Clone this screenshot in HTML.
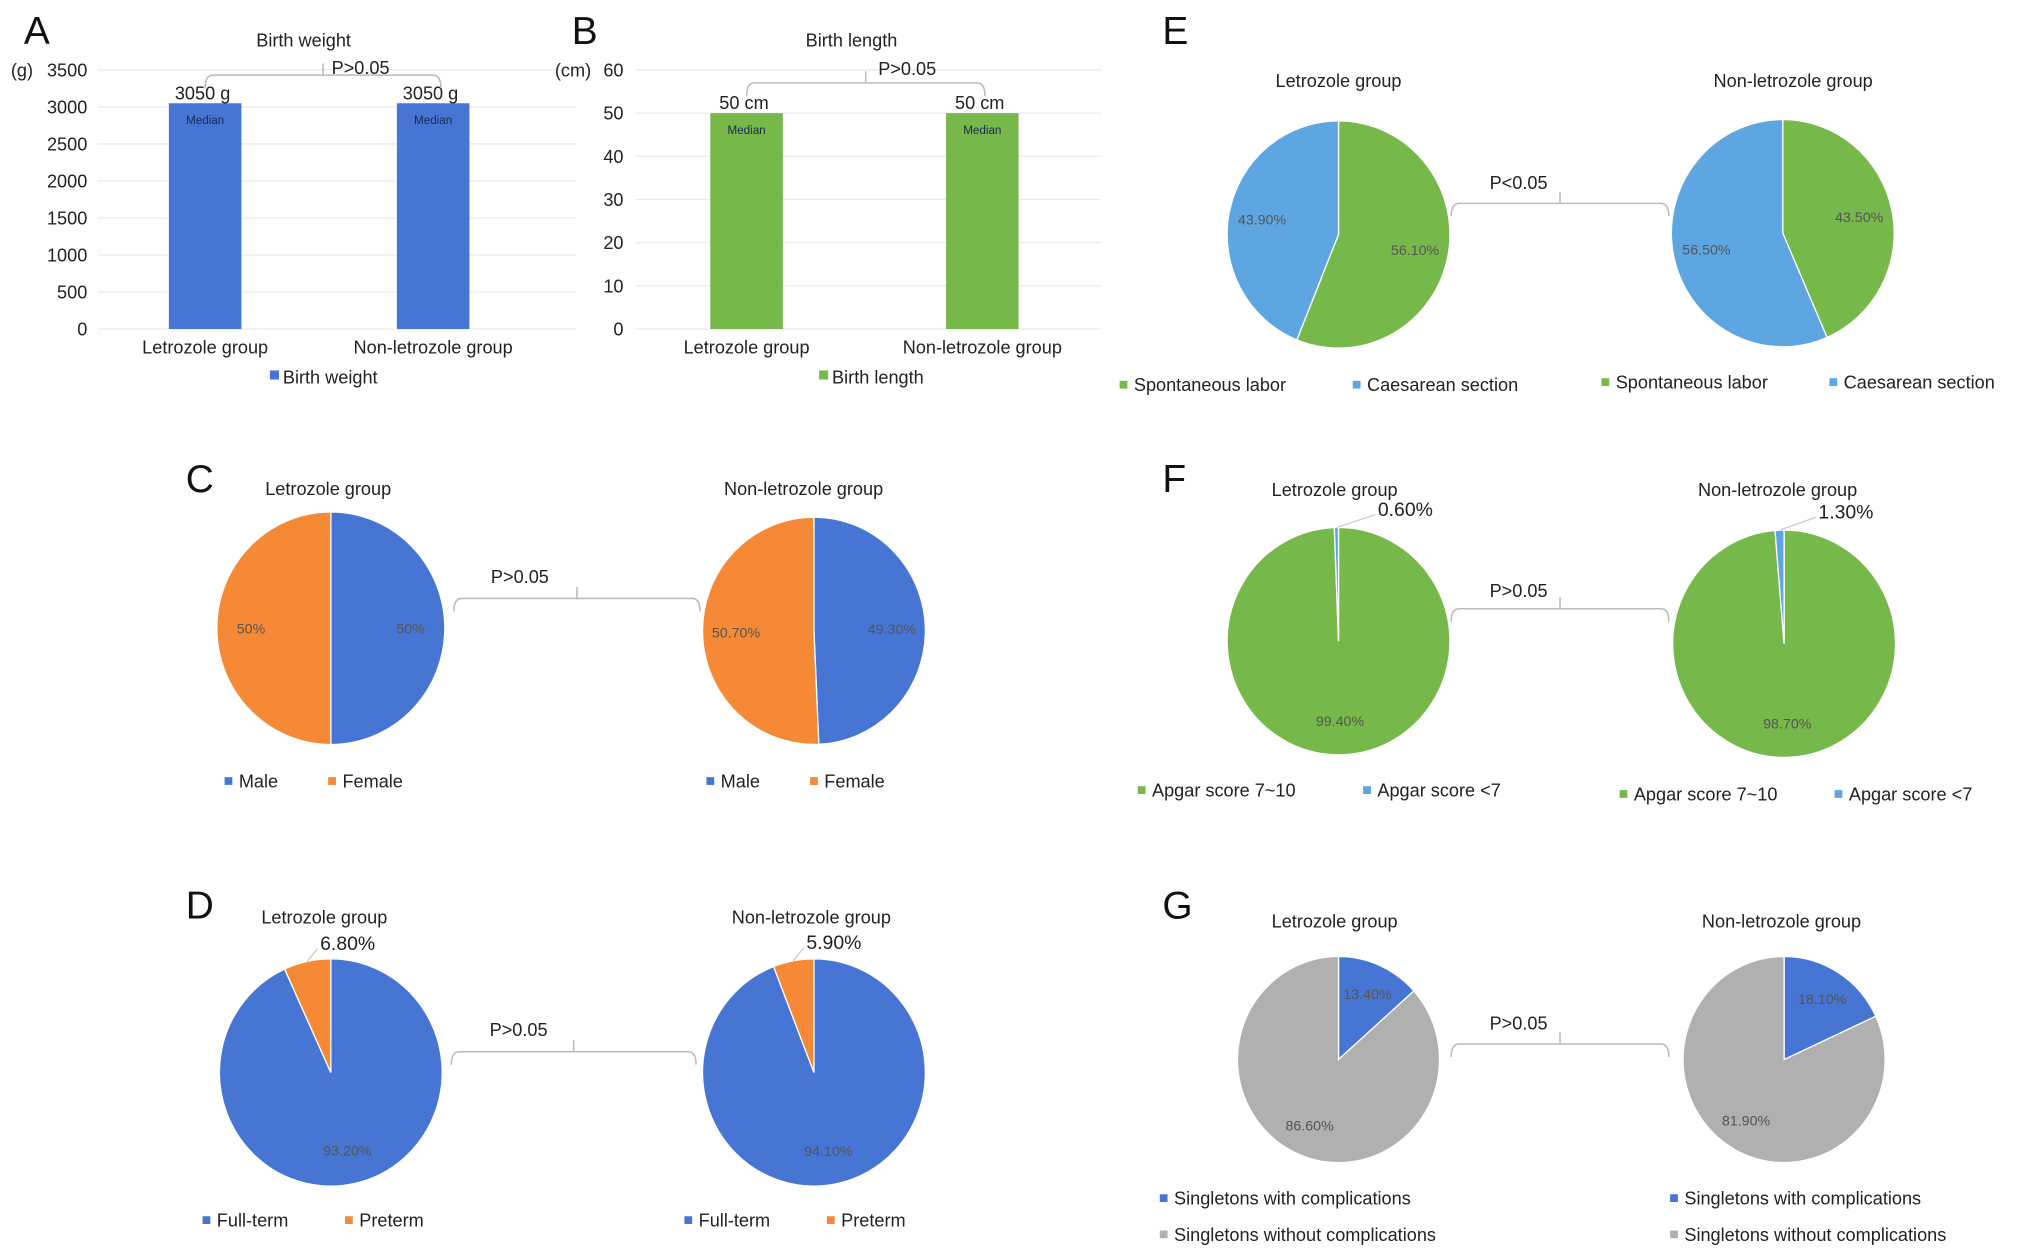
<!DOCTYPE html>
<html><head><meta charset="utf-8"><style>
html,body{margin:0;padding:0;background:#fff}
svg{display:block}
text{font-family:"Liberation Sans",sans-serif}
</style></head><body>
<svg id="fig" width="2032" height="1259" viewBox="0 0 1568 972">
</svg>
<script>
// ---- data ----
const barCategories = ["Letrozole group","Non-letrozole group"];
const weightValues = [3050,3050];
const weightTicks = [0,500,1000,1500,2000,2500,3000,3500];
const lengthValues = [50,50];
const lengthTicks = [0,10,20,30,40,50,60];
const sexLet = [50,50];          // Male, Female
const sexNon = [49.3,50.7];
const termLet = [93.2,6.8];      // Full-term, Preterm
const termNon = [94.1,5.9];
const laborLet = [56.1,43.9];    // Spontaneous, Caesarean
const laborNon = [43.5,56.5];
const apgarLet = [99.4,0.6];     // 7~10, <7
const apgarNon = [98.7,1.3];
const compLet = [13.4,86.6];     // with, without
const compNon = [18.1,81.9];

const NS="http://www.w3.org/2000/svg";
const svg=document.getElementById('fig');
function el(tag,attrs,parent){const e=document.createElementNS(NS,tag);for(const k in attrs)e.setAttribute(k,attrs[k]);(parent||svg).appendChild(e);return e;}
function txt(x,y,s,size,opts,parent){opts=opts||{};const t=el('text',{x:x,y:y,'font-size':size,fill:opts.fill||'#222','text-anchor':opts.anchor||'middle'},parent);t.textContent=s;return t;}

const BLUE="#4675d3",ORANGE="#f58936",GREEN="#77b84b",LBLUE="#5ea6e2",GRAY="#b0b0b0";

// panel letters
[["A",18,34],["B",441,34],["C",143,380],["D",143,709],["E",897,34],["F",897,380],["G",897,709]].forEach(p=>{
  const t=txt(p[1],p[2],p[0],30,{anchor:'start',fill:'#111'});
  
  
});

function bracket(x1,x2,y,label,lx,ly){
  const g=el('g',{});
  
  
  const xm=(x1+x2)/2;
  el('path',{d:`M${x1} ${y+10} Q${x1} ${y} ${x1+6} ${y} L${x2-6} ${y} Q${x2} ${y} ${x2} ${y+10} M${xm} ${y} L${xm} ${y-9}`,stroke:'#bbb','stroke-width':1.2,fill:'none'},g);
  const t=txt(lx,ly,label,14,{fill:'#222'},g);
  
  
}

function barChart(cfg){
  const g=el('g',{});
  
  
  const y0=254,y1=54,max=cfg.ticks[cfg.ticks.length-1];
  const ys=v=>y0-(v/max)*(y0-y1);
  cfg.ticks.forEach(tv=>{
    const gl=el('line',{x1:cfg.gx1,x2:cfg.gx2,y1:ys(tv),y2:ys(tv),stroke:'#ececec','stroke-width':1},g);
    
    
    const t=txt(cfg.tx,ys(tv)+5,String(tv),14,{anchor:'end'},g);
    
    
  });
  txt(cfg.unitX,ys(max)+5,cfg.unit,14,{anchor:'start'},g);
  txt(cfg.titleX,36,cfg.title,14,{},g);
  cfg.values.forEach((v,i)=>{
    const cx=cfg.cx[i];
    const r=el('rect',{x:cx-28,y:ys(v),width:56,height:y0-ys(v),fill:cfg.color},g);
    
    
    txt(cx-2,ys(v)-3,cfg.fmt(v),14,{},g);
    txt(cx,ys(v)+16,'Median',9,{fill:'#1d2a55'},g);
    const c=txt(cx,273,barCategories[i],14,{},g);
    
    
  });
  el('rect',{x:cfg.legX,y:286,width:7,height:7,fill:cfg.color},g);
  const lt=txt(cfg.legX+10,296,cfg.title,14,{anchor:'start'},g);
  
  
}
barChart({name:'birth-weight-chart',values:weightValues,ticks:weightTicks,gx1:75,gx2:445,tx:67,unit:'(g)',unitX:8,title:'Birth weight',titleX:234,cx:[158,334],color:BLUE,fmt:v=>v+' g',legX:208});
bracket(158,340,58,'P>0.05',278,57);
barChart({name:'birth-length-chart',values:lengthValues,ticks:lengthTicks,gx1:490,gx2:850,tx:481,unit:'(cm)',unitX:428,title:'Birth length',titleX:657,cx:[576,758],color:GREEN,fmt:v=>v+' cm',legX:632});
bracket(576,760,64,'P>0.05',700,58);

function pie(cfg){
  const g=el('g',{});
  
  
  const tot=cfg.values.reduce((a,b)=>a+b,0);
  let a=-Math.PI/2;
  const rx=cfg.r,ry=cfg.r*1.02;
  cfg.values.forEach((v,i)=>{
    const da=v/tot*2*Math.PI,a2=a+da;
    const x1=cfg.cx+rx*Math.cos(a),y1=cfg.cy+ry*Math.sin(a);
    const x2=cfg.cx+rx*Math.cos(a2),y2=cfg.cy+ry*Math.sin(a2);
    const p=el('path',{d:`M${cfg.cx} ${cfg.cy} L${x1} ${y1} A${rx} ${ry} 0 ${da>Math.PI?1:0} 1 ${x2} ${y2} Z`,fill:cfg.colors[i],stroke:'#fff','stroke-width':1},g);
    
    
    const am=(a+a2)/2;
    const lab=(v%1===0&&cfg.int)?v+'%':v.toFixed(2)+'%';
    if(v<10&&cfg.outside){
      const ex=cfg.cx+rx*Math.cos(am),ey=cfg.cy+ry*Math.sin(am);
      const odx=cfg.odx||24;
      el('path',{d:`M${ex} ${ey} L${ex+odx-2} ${ey-10}`,stroke:'#ccc','stroke-width':1,fill:'none'},g);
      const t=txt(ex+odx,ey-9,lab,15,{anchor:'start'},g);
      
    } else {
      const t=txt(cfg.cx+rx*0.7*Math.cos(am),cfg.cy+ry*0.7*Math.sin(am)+4,lab,11,{fill:'#555'},g);
      
      
    }
    a=a2;
  });
  const tt=txt(cfg.cx+(cfg.tdx||0),cfg.ty,cfg.title,14,{},g);
  
  
  cfg.legend.forEach(L=>{
    el('rect',{x:L[0],y:L[1]-8,width:6,height:6,fill:cfg.colors[L[3]]},g);
    const t=txt(L[0]+11,L[1],L[2],14,{anchor:'start'},g);
    
    
  });
}
// C
pie({name:'sex-letrozole-pie',values:sexLet,labels:['Male','Female'],colors:[BLUE,ORANGE],cx:255,cy:485,r:88,title:'Letrozole group',ty:382,tdx:-2,int:true,legend:[[173,608,'Male',0],[253,608,'Female',1]]});
pie({name:'sex-non-letrozole-pie',values:sexNon,labels:['Male','Female'],colors:[BLUE,ORANGE],cx:628,cy:487,r:86,title:'Non-letrozole group',ty:382,tdx:-8,legend:[[545,608,'Male',0],[625,608,'Female',1]]});
bracket(350,540,462,'P>0.05',401,450);
// D
pie({name:'term-letrozole-pie',values:termLet,labels:['Full-term','Preterm'],colors:[BLUE,ORANGE],cx:255,cy:828,r:86,title:'Letrozole group',ty:713,tdx:-5,outside:true,odx:10,legend:[[156,947,'Full-term',0],[266,947,'Preterm',1]]});
pie({name:'term-non-letrozole-pie',values:termNon,labels:['Full-term','Preterm'],colors:[BLUE,ORANGE],cx:628,cy:828,r:86,title:'Non-letrozole group',ty:713,tdx:-2,outside:true,odx:10,legend:[[528,947,'Full-term',0],[638,947,'Preterm',1]]});
bracket(348,537,812,'P>0.05',400,800);
// E
pie({name:'labor-letrozole-pie',values:laborLet,labels:['Spontaneous labor','Caesarean section'],colors:[GREEN,LBLUE],cx:1033,cy:181,r:86,title:'Letrozole group',ty:67,legend:[[864,302,'Spontaneous labor',0],[1044,302,'Caesarean section',1]]});
pie({name:'labor-non-letrozole-pie',values:laborNon,labels:['Spontaneous labor','Caesarean section'],colors:[GREEN,LBLUE],cx:1376,cy:180,r:86,title:'Non-letrozole group',ty:67,tdx:8,legend:[[1236,300,'Spontaneous labor',0],[1412,300,'Caesarean section',1]]});
bracket(1120,1288,157,'P<0.05',1172,146);
// F
pie({name:'apgar-letrozole-pie',values:apgarLet,labels:['Apgar score 7~10','Apgar score <7'],colors:[GREEN,LBLUE],cx:1033,cy:495,r:86,title:'Letrozole group',ty:383,tdx:-3,outside:true,odx:32,legend:[[878,615,'Apgar score 7~10',0],[1052,615,'Apgar score <7',1]]});
pie({name:'apgar-non-letrozole-pie',values:apgarNon,labels:['Apgar score 7~10','Apgar score <7'],colors:[GREEN,LBLUE],cx:1377,cy:497,r:86,title:'Non-letrozole group',ty:383,tdx:-5,outside:true,odx:30,legend:[[1250,618,'Apgar score 7~10',0],[1416,618,'Apgar score <7',1]]});
bracket(1120,1288,470,'P>0.05',1172,461);
// G
pie({name:'complications-letrozole-pie',values:compLet,labels:['Singletons with complications','Singletons without complications'],colors:[BLUE,GRAY],cx:1033,cy:818,r:78,title:'Letrozole group',ty:716,tdx:-3,legend:[[895,930,'Singletons with complications',0],[895,958,'Singletons without complications',1]]});
pie({name:'complications-non-letrozole-pie',values:compNon,labels:['Singletons with complications','Singletons without complications'],colors:[BLUE,GRAY],cx:1377,cy:818,r:78,title:'Non-letrozole group',ty:716,tdx:-2,legend:[[1289,930,'Singletons with complications',0],[1289,958,'Singletons without complications',1]]});
bracket(1120,1288,806,'P>0.05',1172,795);
</script>
</body></html>
